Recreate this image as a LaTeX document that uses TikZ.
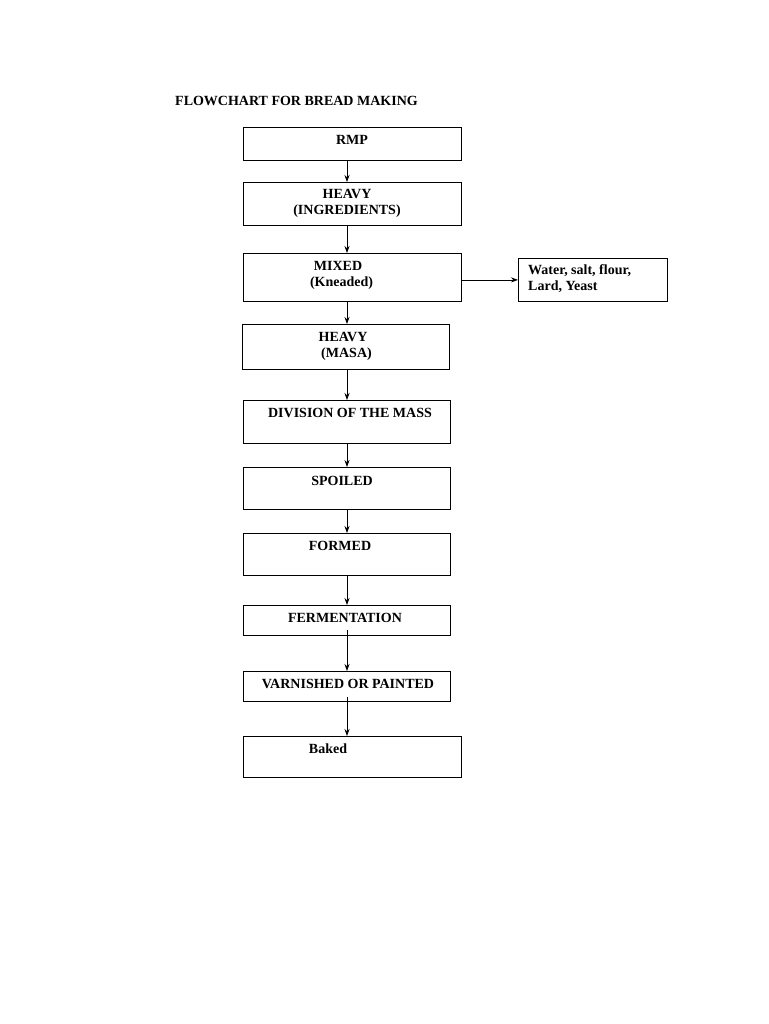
\documentclass[tikz,border=0pt]{standalone}
\usepackage{fontspec}
\setmainfont{Liberation Serif}
\usetikzlibrary{arrows.meta}
\begin{document}
\begin{tikzpicture}[x=1pt,y=-1pt,
 box/.style={draw,line width=0.8pt,inner sep=0pt},
 txt/.style={font=\fontsize{14}{16}\selectfont\bfseries,align=center,inner sep=0pt},
 arr/.style={-{Stealth[length=7pt,width=5pt]},line width=0.8pt}]
\useasboundingbox (0,0) rectangle (768,1024);
\coordinate (ax) at (347,0);
\node[txt,anchor=west] (title) at (175,101) {FLOWCHART FOR BREAD MAKING};
\newcommand{\bx}[5]{\node[box,minimum width={#4-#2},minimum height={#5-#3},anchor=north west] (#1) at (#2,#3) {};}
\bx{b1}{243}{127}{461}{160}
\bx{b2}{243}{182}{461}{225}
\bx{b3}{243}{253}{461}{301}
\bx{side}{518}{258}{667}{301}
\bx{b4}{242}{324}{449}{369}
\bx{b5}{243}{400}{450}{443}
\bx{b6}{243}{467}{450}{509}
\bx{b7}{243}{533}{450}{575}
\bx{b8}{243}{605}{450}{635}
\bx{b9}{243}{671}{450}{701}
\bx{b10}{243}{736}{461}{777}
\node[txt] (t1) at (352,140) {RMP};
\node[txt] (t2) at (347,203) {HEAVY\\(INGREDIENTS)};
\node[txt] (t3) at (338,275) {MIXED\\\ \ (Kneaded)};
\node[txt,anchor=west,align=left] (ts) at (528,279) {Water, salt, flour,\\Lard, Yeast};
\node[txt] (t4) at (343,346) {HEAVY\\\ \ (MASA)};
\node[txt] (t5) at (350,413) {DIVISION OF THE MASS};
\node[txt] (t6) at (342,481) {SPOILED};
\node[txt] (t7) at (340,546) {FORMED};
\node[txt] (t8) at (345,618) {FERMENTATION};
\node[txt] (t9) at (348,684) {VARNISHED OR PAINTED};
\node[txt] (t10) at (328,749) {Baked};
\draw[arr] (b1.south -| ax) -- (b2.north -| ax);
\draw[arr] (b2.south -| ax) -- (b3.north -| ax);
\draw[arr] (b3.south -| ax) -- (b4.north -| ax);
\draw[arr] (b4.south -| ax) -- (b5.north -| ax);
\draw[arr] (b5.south -| ax) -- (b6.north -| ax);
\draw[arr] (b6.south -| ax) -- (b7.north -| ax);
\draw[arr] (b7.south -| ax) -- (b8.north -| ax);
\draw[arr] ([yshift=6]b8.south -| ax) -- (b9.north -| ax);
\draw[arr] ([yshift=5]b9.south -| ax) -- (b10.north -| ax);
\draw[arr] (b3.east |- side.west) -- (side.west);
\end{tikzpicture}
\end{document}
